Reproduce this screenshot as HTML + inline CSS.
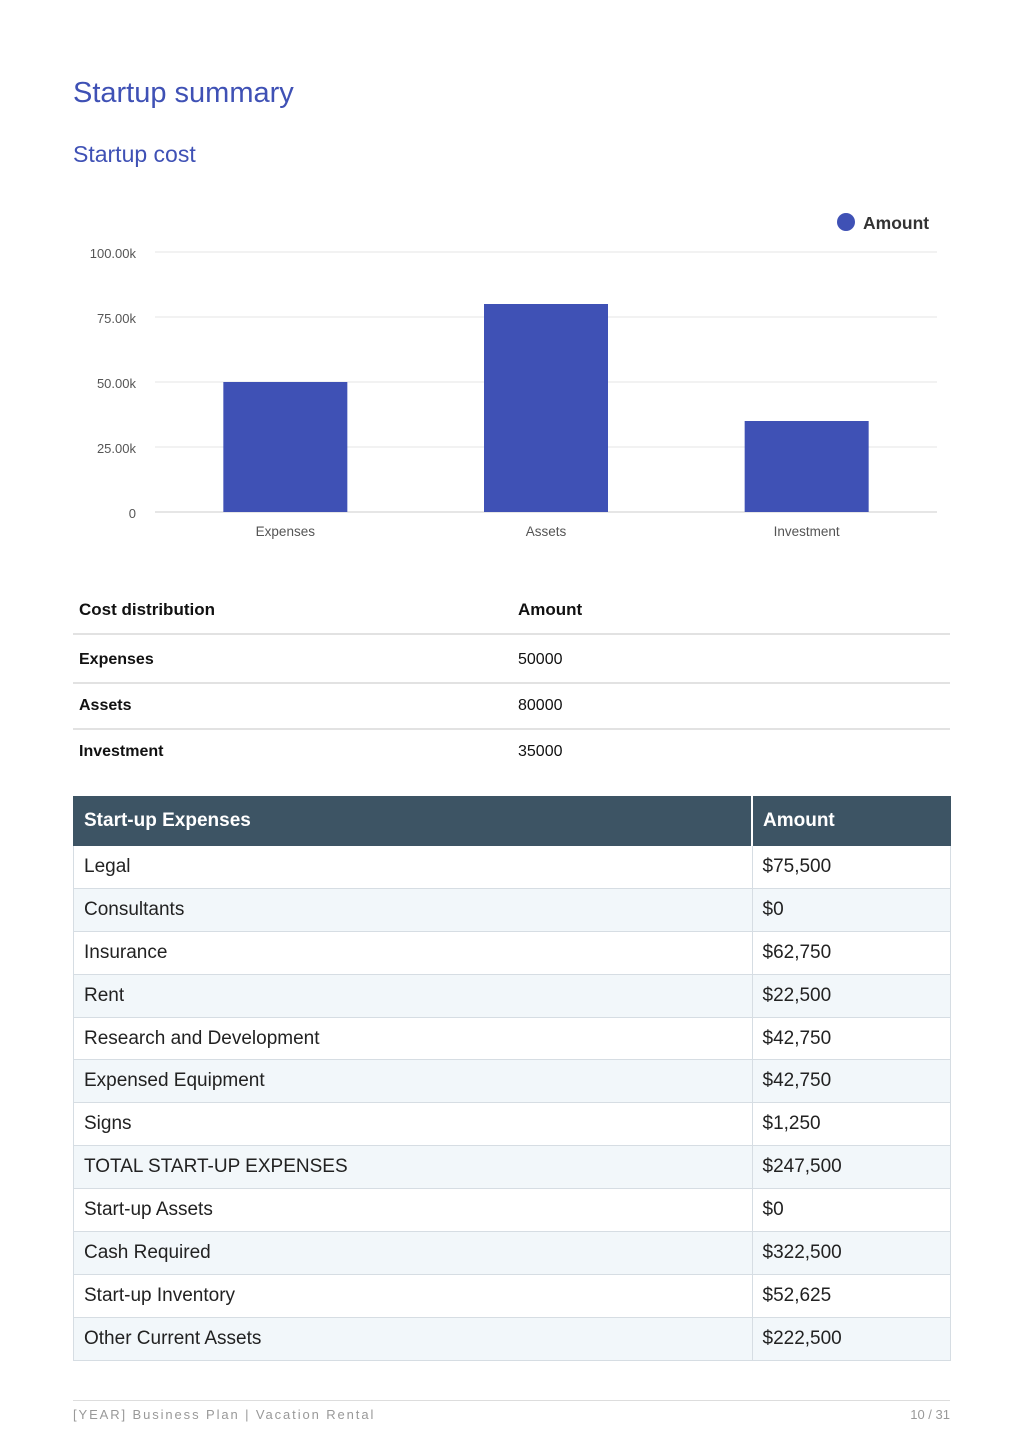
<!DOCTYPE html>
<html><head><meta charset="utf-8"><style>
body{margin:0;width:1024px;height:1450px;background:#fff;font-family:"Liberation Sans",sans-serif;position:relative;overflow:hidden}
.abs{position:absolute}
h1{position:absolute;left:73px;top:77px;margin:0;font-weight:normal;font-size:29px;color:#3f51b5}
h2{position:absolute;left:73px;top:141px;margin:0;font-weight:normal;font-size:23px;color:#3f51b5}
.cd{position:absolute;left:73px;top:587px;width:877px;border-collapse:collapse;font-size:16px;color:#111}
.cd td{height:44px;padding:0 6px;border-bottom:2px solid #e2e2e2}
.cd tr:last-child td{border-bottom:none}
.cd td:first-child{width:427px;font-weight:bold}
.cd tr:first-child td{font-weight:bold;font-size:17px;height:46px}
.cd tr:nth-child(2) td{padding-top:3px}
.se{position:absolute;left:73px;top:796px;width:878px;border-collapse:collapse;font-size:19px;color:#222}
.se td{height:41.9px;padding:0 10px;border:1px solid #d6dde3}
.se tr:first-child td{background:#3d5464;color:#fff;font-weight:bold;height:48px;border-color:#3d5464;border-right:2px solid #fff}
.se tr:first-child td:last-child{border-right-color:#3d5464}
.se tr:nth-child(odd) td{background:#f2f7fa}
.se tr:first-child td{background:#3d5464}
.se td:first-child{width:657px}
</style></head><body>
<h1>Startup summary</h1>
<h2>Startup cost</h2>
<svg class="abs" style="left:0;top:200px" width="1024" height="360">
<g id="g"></g>
</svg>
<script>
const categories=["Expenses","Assets","Investment"];
const amounts=[50000,80000,35000];
const tickValues=[0,25000,50000,75000,100000];
const tickLabels=["0","25.00k","50.00k","75.00k","100.00k"];
const ns="http://www.w3.org/2000/svg",g=document.getElementById('g');
const X0=155,X1=937,Y0=312,Y1=52;
const y=v=>Y0-(v/100000)*(Y0-Y1);
const bw=(X1-X0)/categories.length;
const x=i=>X0+bw*(i+0.5);
function mk(t,a,txt){const e=document.createElementNS(ns,t);for(const k in a)e.setAttribute(k,a[k]);if(txt!=null)e.textContent=txt;g.appendChild(e);return e;}
tickValues.forEach((v,i)=>{
 const l=mk('line',{x1:X0,x2:X1,y1:y(v),y2:y(v),stroke:i==0?'#ccc':'#e4e4e4','stroke-width':1});
 
 
 const t=mk('text',{x:136,y:y(v)+6,'text-anchor':'end','font-size':13,fill:'#555','font-family':'Liberation Sans'},tickLabels[i]);
 
 
});
categories.forEach((c,i)=>{
 const r=mk('rect',{x:x(i)-62,y:y(amounts[i]),width:124,height:Y0-y(amounts[i]),fill:'#3f51b5'});
 
 
 const t=mk('text',{x:x(i),y:336,'text-anchor':'middle','font-size':13.5,fill:'#555','font-family':'Liberation Sans'},c);
 
 
});
const lc=mk('circle',{cx:846,cy:22,r:9,fill:'#3f51b5'});


const lt=mk('text',{x:863,y:29,'font-size':17.5,'font-weight':'bold',fill:'#333','font-family':'Liberation Sans'},'Amount');


</script>
<table class="cd">
<tr><td>Cost distribution</td><td>Amount</td></tr>
<tr><td>Expenses</td><td>50000</td></tr>
<tr><td>Assets</td><td>80000</td></tr>
<tr><td>Investment</td><td>35000</td></tr>
</table>
<table class="se">
<tr><td>Start-up Expenses</td><td>Amount</td></tr>
<tr><td>Legal</td><td>$75,500</td></tr>
<tr><td>Consultants</td><td>$0</td></tr>
<tr><td>Insurance</td><td>$62,750</td></tr>
<tr><td>Rent</td><td>$22,500</td></tr>
<tr><td>Research and Development</td><td>$42,750</td></tr>
<tr><td>Expensed Equipment</td><td>$42,750</td></tr>
<tr><td>Signs</td><td>$1,250</td></tr>
<tr><td>TOTAL START-UP EXPENSES</td><td>$247,500</td></tr>
<tr><td>Start-up Assets</td><td>$0</td></tr>
<tr><td>Cash Required</td><td>$322,500</td></tr>
<tr><td>Start-up Inventory</td><td>$52,625</td></tr>
<tr><td>Other Current Assets</td><td>$222,500</td></tr>
</table>
<div class="abs" style="left:73px;top:1400px;width:877px;border-top:1px solid #ddd"></div>
<div class="abs" style="left:73px;top:1407px;font-size:13px;color:#999;letter-spacing:1.9px">[YEAR] Business Plan | Vacation Rental</div>
<div class="abs" style="right:74px;top:1407px;font-size:13px;color:#999">10 / 31</div>
</body></html>
